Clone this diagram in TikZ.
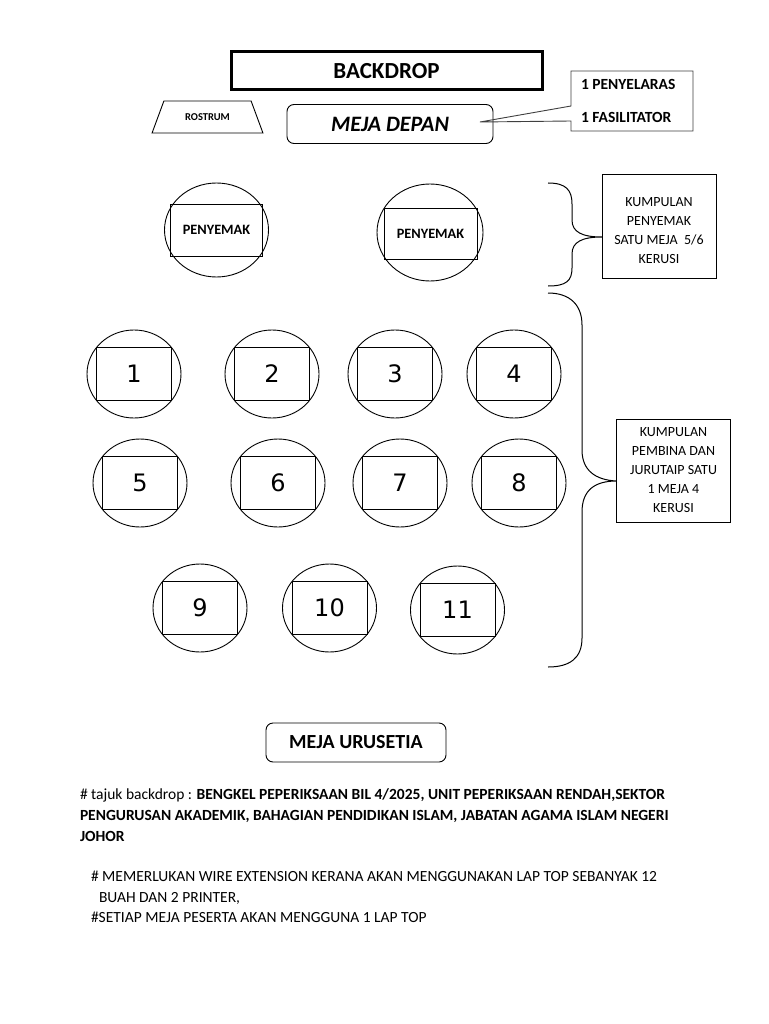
\documentclass[tikz,border=0pt]{standalone}
\usepackage{fontspec}
\setmainfont{Carlito}
\newfontfamily\numfont{DejaVu Sans}
\usetikzlibrary{shapes.geometric}
\newcommand\mytable[3]{%
  \node[tcirc] (c#1) at (#2,#3) {};
  \node[trect] (t#1) at (#2,#3) {#1};}
\begin{document}
\begin{tikzpicture}[x=1pt,y=-1pt,
  every node/.style={inner sep=0pt, outer sep=0pt},
  ln/.style={line width=0.9pt, draw=black},
  tcirc/.style={ellipse, ln, minimum width=94pt, minimum height=88pt},
  trect/.style={rectangle, ln, minimum width=75pt, minimum height=53pt,
    font=\numfont\fontsize{24}{28}\selectfont},
  pcirc/.style={ellipse, ln, minimum width=104pt, minimum height=94pt},
  prect/.style={rectangle, ln, minimum width=92pt, minimum height=52pt,
    font=\bfseries\fontsize{14.3}{17}\selectfont},
  infobox/.style={rectangle, ln},
  infotext/.style={align=center, font=\fontsize{14}{19}\selectfont},
  rbox/.style={rectangle, ln, rounded corners=7pt},
  brace/.style={line width=1pt, draw=black},
  calltext/.style={anchor=base west, font=\bfseries\fontsize{15.5}{18}\selectfont},
  note/.style={anchor=base west, font=\fontsize{15.5}{18}\selectfont},
]
\useasboundingbox (0,0) rectangle (768,1024);
\fill[white] (0,0) rectangle (768,1024);

% backdrop
\node[rectangle, draw, line width=3pt, minimum width=311pt, minimum height=38pt,
  font=\bfseries\fontsize{23}{26}\selectfont] (backdrop) at (386.5,71) {BACKDROP};

% rostrum
\node[trapezium, ln, trapezium stretches=true, minimum width=111pt, minimum height=32pt,
  trapezium left angle=49, trapezium right angle=49,
  font=\bfseries\fontsize{10.5}{12}\selectfont] (rostrum) at (207.5,117) {ROSTRUM};

% meja depan
\node[rbox, minimum width=206pt, minimum height=39pt,
  font=\bfseries\itshape\fontsize{22}{26}\selectfont] (depan) at (390,124) {MEJA DEPAN};

% callout
\coordinate (tip) at (480,122);
\draw[line width=0.9pt, draw=black!75] (571,106) -- (571,71) -- (693,71) -- (693,131)
  -- (571,131) -- (571,121) -- (tip) -- cycle;
\node[calltext] (peny) at (581,89.5) {1 PENYELARAS};
\node[calltext] (fasi) at (581,122.5) {1 FASILITATOR};

% penyemak
\node[pcirc] (pc1) at (216.5,230) {};
\node[prect] (pr1) at (216.5,230) {PENYEMAK};
\node[pcirc, minimum width=106pt, minimum height=97pt] (pc2) at (430,232.5) {};
\node[prect, minimum width=93pt, minimum height=51pt] (pr2) at (430.5,233.5) {PENYEMAK};

% brace 1 and box
\coordinate (b1top) at (548,183);
\coordinate (b1bot) at (548,286);
\node[infobox, minimum width=114pt, minimum height=104pt] (info1) at (659,226) {};
\node[infotext] (info1t) at (659,230.5)
  {KUMPULAN\\PENYEMAK\\SATU MEJA\ \ 5/6\\KERUSI};
\draw[brace] (b1top) .. controls (566,183) and (572,190) .. (572,204)
  -- (572,220) .. controls (572,232) and (582,237) .. (info1.west |- 0,237)
  .. controls (582,237) and (572,242) .. (572,254)
  -- (572,268) .. controls (572,281) and (566,286) .. (b1bot);

% brace 2 and box
\coordinate (b2top) at (548,293);
\coordinate (b2bot) at (548,667);
\node[infobox, minimum width=114pt, minimum height=103pt] (info2) at (673.5,470.5) {};
\node[infotext] (info2t) at (673.5,470.5)
  {KUMPULAN\\PEMBINA DAN\\JURUTAIP SATU\\1 MEJA 4\\KERUSI};
\draw[brace] (b2top) .. controls (570,293) and (582,305) .. (582,325)
  -- (582,450) .. controls (582,470) and (595,480) .. (info2.west |- 0,481)
  .. controls (595,481) and (582,490) .. (582,512)
  -- (582,638) .. controls (582,658) and (570,667) .. (b2bot);

% tables
\mytable{1}{134}{374}
\mytable{2}{272}{374}
\mytable{3}{395}{374}
\mytable{4}{514}{374}
\mytable{5}{140}{483}
\mytable{6}{278}{483}
\mytable{7}{400}{483}
\mytable{8}{519}{483}
\mytable{9}{200}{608}
\mytable{10}{329.5}{608}
\mytable{11}{457.5}{610}

% meja urusetia
\node[rbox, minimum width=180pt, minimum height=39pt,
  font=\bfseries\fontsize{20}{24}\selectfont] (urusetia) at (356,742.5) {MEJA URUSETIA};

% notes
\node[note] (n1) at (80,799.5) {\# tajuk backdrop : \textbf{BENGKEL PEPERIKSAAN BIL 4/2025, UNIT PEPERIKSAAN RENDAH,SEKTOR}};
\node[note] (n2) at (80,820.5) {\textbf{PENGURUSAN AKADEMIK, BAHAGIAN PENDIDIKAN ISLAM, JABATAN AGAMA ISLAM NEGERI}};
\node[note] (n3) at (80,841.5) {\textbf{JOHOR}};
\node[note] (n4) at (91,881) {\# MEMERLUKAN WIRE EXTENSION KERANA AKAN MENGGUNAKAN LAP TOP SEBANYAK 12};
\node[note] (n5) at (99,902) {BUAH DAN 2 PRINTER,};
\node[note] (n6) at (91,922) {\#SETIAP MEJA PESERTA AKAN MENGGUNA 1 LAP TOP};
\end{tikzpicture}
\end{document}
